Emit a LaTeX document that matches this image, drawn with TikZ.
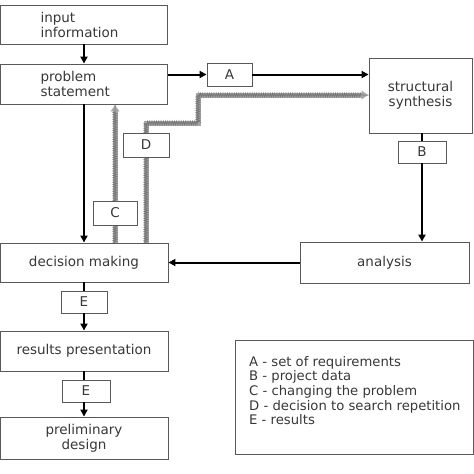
\documentclass[tikz,border=0pt]{standalone}
\usepackage{fontspec}
\setmainfont{DejaVu Sans}
\usetikzlibrary{arrows.meta,decorations.pathmorphing}
\pgfdeclarelayer{bg}
\pgfsetlayers{bg,main}
\begin{document}
\begin{tikzpicture}[x=1pt,y=-1pt,
  font=\fontsize{13.5}{15}\selectfont,
  box/.style={draw=black!65, line width=0.9pt, fill=white, inner sep=0pt, text=black!78, align=center},
  lbox/.style={box, text width=87pt, inner xsep=40pt, align=left},
  arr/.style={line width=2pt, -{Triangle[length=7pt,width=7pt]}},
  ln/.style={line width=2pt},
  hatch/.style={line width=5pt, draw=black!35, -{Latex[length=7pt,width=10pt]}},
  hatchz/.style={decorate, decoration={zigzag, segment length=1.8pt, amplitude=2pt, post length=7pt}, line width=0.5pt, draw=black!55}]
\useasboundingbox (0,0) rectangle (474,474);

\node[lbox, minimum width=167pt, minimum height=39pt] (input) at (84,24.5) {input\\information};
\node[lbox, minimum width=167pt, minimum height=40pt] (problem) at (84,84) {problem\\statement};
\node[box, minimum width=103pt, minimum height=75pt] (synth) at (420.5,95.5) {structural\\synthesis};
\node[box, minimum width=45pt, minimum height=23pt] (A) at (229.5,74.5) {A};
\node[box, minimum width=48pt, minimum height=22pt] (B) at (422,152) {B};
\node[box, minimum width=169pt, minimum height=41pt] (analysis) at (384.5,262.5) {analysis};
\node[box, minimum width=168pt, minimum height=39pt] (decision) at (84,262.5) {decision making};
\node[box, minimum width=44pt, minimum height=24pt] (C) at (115,213) {C};
\node[box, minimum width=46pt, minimum height=24pt] (D) at (146,145) {D};
\node[box, minimum width=46pt, minimum height=22pt] (E1) at (84,302) {E};
\node[box, minimum width=168pt, minimum height=40pt] (results) at (84,351) {results presentation};
\node[box, minimum width=48pt, minimum height=22pt] (E2) at (86,391) {E};
\node[box, minimum width=168pt, minimum height=42pt] (prelim) at (84,438) {preliminary\\design};
\node[box, minimum width=238pt, minimum height=114pt] (legend) at (354,397) {};
\node[inner sep=0pt, anchor=north west, align=left, text=black!78, font=\fontsize{13.2}{14.6}\selectfont] (legendtext) at (249,356)
  {A - set of requirements\\B - project data\\C - changing the problem\\D - decision to search repetition\\E - results};

% black connectors
\draw[arr] (input) -- (problem);
\draw[arr] (problem.east |- A.west) -- (A.west);
\draw[arr] (A.east) -- (synth.west |- A.east);
\draw[ln] (B.north |- synth.south) -- (B.north);
\draw[arr] (B.south) -- (B.south |- analysis.north);
\draw[arr] (analysis.west) -- (decision.east);
\draw[arr] (problem.south) -- (decision.north);
\draw[ln] (decision.south) -- (E1.north);
\draw[arr] (E1.south) -- (E1.south |- results.north);
\draw[ln] (results.south) -- (results.south |- E2.north);
\draw[arr] (results.south |- E2.south) -- (prelim.north);

% hatched connectors
\coordinate (d1) at (146,123);
\coordinate (d2) at (198,123);
\coordinate (d3) at (198,95);
\begin{pgfonlayer}{bg}
  \fill[white] (0,0) rectangle (474,474);
  \draw[hatch] (C |- decision.north) -- (C |- problem.south);
  \draw[hatchz] (C |- decision.north) -- (C |- problem.south);
  \draw[hatch] (D |- decision.north) -- (d1) -- (d2) -- (d3) -- (synth.west |- d3);
  \draw[hatchz] (D |- decision.north) -- (d1) -- (d2) -- (d3) -- (synth.west |- d3);
\end{pgfonlayer}
\end{tikzpicture}
\end{document}
